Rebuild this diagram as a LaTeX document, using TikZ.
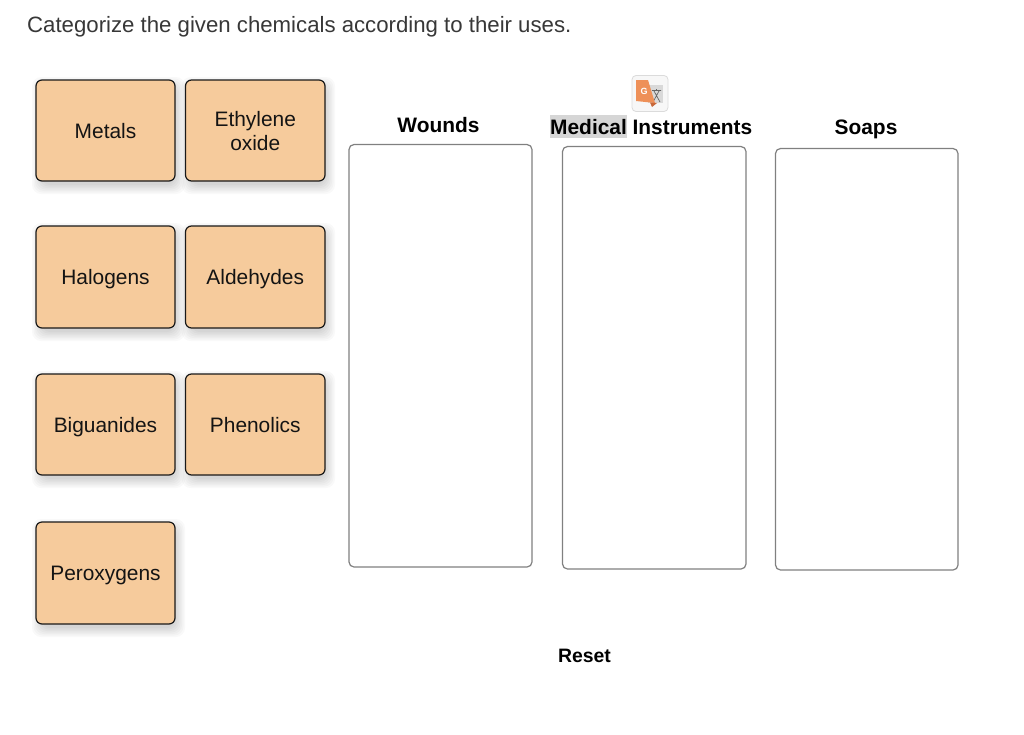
\documentclass[tikz,border=0pt]{standalone}
\usepackage{fontspec}
\setmainfont{Liberation Sans}
\begin{document}
\begin{tikzpicture}[x=1pt,y=-1pt,
  cardtext/.style={font=\fontsize{20.9}{24}\selectfont,text=black!92,align=center,inner sep=0pt},
  headtext/.style={font=\fontsize{20.9}{24}\selectfont\bfseries,text=black,inner sep=0pt,anchor=base},
  cardbox/.style={draw=black!90,line width=1.2pt,fill=cardfill,rounded corners=6pt},
  columnbox/.style={draw=black!50,line width=1.2pt,fill=white,rounded corners=5pt},
  blur/.style={fill=black,fill opacity=.024,draw=none}]
\definecolor{cardfill}{HTML}{F6CB9C}
\definecolor{iconorange}{HTML}{EE9058}
\definecolor{icontip}{HTML}{C8683A}
\useasboundingbox (0,0) rectangle (1024,734);
\fill[white] (0,0) rectangle (1024,734);
\node[anchor=base west,inner sep=0pt,text=black!78,font=\fontsize{22.2}{26}\selectfont] (title) at (27,32.4) {Categorize the given chemicals according to their uses.};
% cards
\foreach \nm/\xa/\ya/\xb/\yb/\txt in {
  metals/36/80/175/181/{\strut Metals},
  ethylene/185.5/80/325/181/{\strut Ethylene\\\strut oxide},
  halogens/36/226/175/328/{\strut Halogens},
  aldehydes/185.5/226/325/328/{\strut Aldehydes},
  biguanides/36/374/175/475/{\strut Biguanides},
  phenolics/185.5/374/325/475/{\strut Phenolics},
  peroxygens/36/522/175/624/{\strut Peroxygens}}{
  \foreach \g in {9,7.5,6,4.5,3,1.5,0}{
    \fill[blur,rounded corners=9pt] (\xa+5-\g,\ya+6-\g) rectangle (\xb+1+\g,\yb+4+\g);
  }
  \draw[cardbox] (\xa,\ya) rectangle (\xb,\yb);
  \node[cardtext] (\nm) at ({(\xa+\xb)/2},{(\ya+\yb)/2+2.9}) {\txt};
}
% columns
\draw[columnbox] (349,144.5) rectangle (532,567);
\draw[columnbox] (562.5,146.5) rectangle (746,569);
\draw[columnbox] (775.5,148.5) rectangle (958,570);
% highlight
\fill[black!16] (549.5,115) rectangle (627,138);
% headers
\node[headtext] (wounds) at (438.5,132) {Wounds};
\node[headtext,anchor=base west] (medical) at (550,134) {Medical Instruments};
\node[headtext] (soaps) at (866,134) {Soaps};
\node[inner sep=0pt,anchor=base,font=\fontsize{19.4}{24}\selectfont\bfseries] (reset) at (584.5,662) {Reset};
% translate icon
\draw[draw=black!14,line width=.8pt,fill=black!3,rounded corners=4pt] (632,75.5) rectangle (668,111.5);
\fill[black!15] (648,85) rectangle (663,103);
\draw[black!60,line width=.7pt] (652,90.5) -- (661,90.5) (656.5,89) -- (656.5,90.5) (654,91) -- (660,102) (659,91) -- (653,102);
\fill[iconorange] (636,80) -- (648,80) -- (655,103) -- (636,101) -- cycle;
\fill[icontip] (650,102.5) -- (657,103) -- (652,107) -- cycle;
\node[inner sep=0pt,text=white,font=\fontsize{9}{10}\selectfont\bfseries] (glyph) at (644,91.5) {G};
\end{tikzpicture}
\end{document}
